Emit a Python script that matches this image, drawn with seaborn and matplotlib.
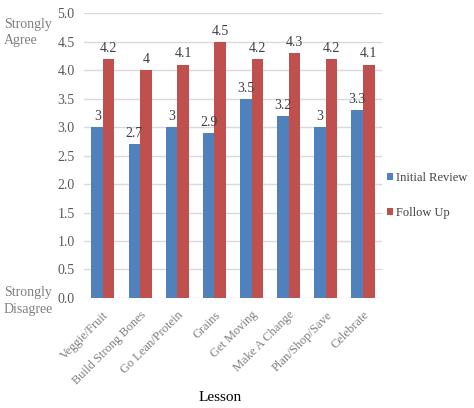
import matplotlib
matplotlib.use("Agg")
import matplotlib.pyplot as plt
import pandas as pd
import seaborn as sns

lessons = ["Veggie/Fruit", "Build Strong Bones", "Go Lean/Protein", "Grains",
           "Get Moving", "Make A Change", "Plan/Shop/Save", "Celebrate"]
initial = [3, 2.7, 3, 2.9, 3.5, 3.2, 3, 3.3]
follow = [4.2, 4, 4.1, 4.5, 4.2, 4.3, 4.2, 4.1]
series = ["Initial Review", "Follow Up"]
colors = ["#4f81bd", "#c0504d"]


def main():
    sns.set_style("white")
    plt.rcParams["font.family"] = ["Liberation Serif", "DejaVu Serif"]

    df = pd.DataFrame({"Lesson": lessons * 2,
                       "Score": initial + follow,
                       "Group": [series[0]] * 8 + [series[1]] * 8})

    fig = plt.figure(figsize=(4.74, 4.08), dpi=100)
    ax = fig.add_axes([0.178, 0.27, 0.627, 0.697])
    sns.barplot(data=df, x="Lesson", y="Score", hue="Group", palette=colors,
                width=0.62, gap=0, linewidth=0, ax=ax, saturation=1, legend=True)

    for cont in ax.containers:
        labels = ["%g" % b.get_height() for b in cont]
        ax.bar_label(cont, labels=labels, padding=3, fontsize=10, color="#404040")

    ax.set_ylim(0, 5.0)
    ax.set_xlim(-0.5, 7.5)
    ax.set_yticks([i * 0.5 for i in range(11)])
    ax.set_yticklabels(["%.1f" % (i * 0.5) for i in range(11)], fontsize=10,
                       color="#595959")
    ax.yaxis.grid(True, color="#d9d9d9", linewidth=1)
    ax.set_axisbelow(True)
    for s in ax.spines.values():
        s.set_visible(False)
    ax.tick_params(axis="both", length=0)
    ax.tick_params(axis="x", pad=8)
    ax.tick_params(axis="y", pad=7)
    ax.set_xticks(range(len(lessons)))
    ax.set_xticklabels(lessons, rotation=45, ha="right", rotation_mode="anchor",
                       fontsize=9, color="#7f7f7f")
    ax.set_xlabel("Lesson", fontsize=11, color="black", va="center")
    ax.xaxis.set_label_coords(0.456, -0.349)
    ax.set_ylabel("")

    fig.text(0.008, 0.92, "Strongly\nAgree", fontsize=10, color="#7f7f7f",
             ha="left", va="center", linespacing=1.35)
    fig.text(0.008, 0.262, "Strongly\nDisagree", fontsize=10, color="#7f7f7f",
             ha="left", va="center", linespacing=1.35)

    ax.legend(loc="center left", bbox_to_anchor=(1.0, 0.36), frameon=False,
              fontsize=9, handlelength=0.5, handleheight=0.5, borderaxespad=0,
              handletextpad=0.25, labelspacing=1.9, labelcolor="#404040")

    fig.savefig("out.png", dpi=100)


if __name__ == "__main__":
    main()
